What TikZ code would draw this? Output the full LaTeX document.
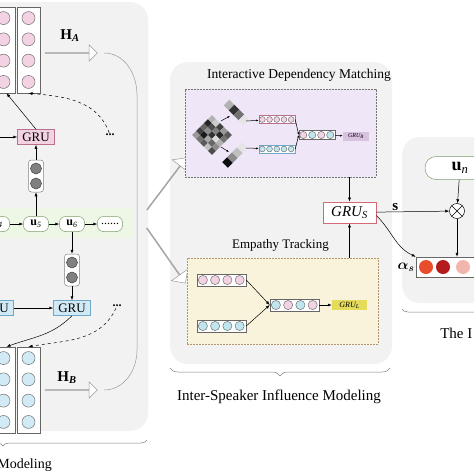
\documentclass[tikz,border=0pt]{standalone}
\usepackage{amsmath}
\usepackage{fontspec}
\setmainfont{Liberation Serif}
\usepackage{tikz}
\usetikzlibrary{shapes, arrows.meta, positioning, calc, decorations.pathreplacing}
\definecolor{panel}{HTML}{F2F2F2}
\definecolor{pinkf}{HTML}{F3D3E3}
\definecolor{pinkb}{HTML}{B8708F}
\definecolor{bluef}{HTML}{D2EAF5}
\definecolor{blueb}{HTML}{6FA8C8}
\definecolor{cyanf}{HTML}{BFE5EE}
\definecolor{greenb}{HTML}{7E9E6E}
\definecolor{greenf}{HTML}{EEF7E6}
\definecolor{idmf}{HTML}{EFE7F7}
\definecolor{etf}{HTML}{FAF3DC}
\definecolor{etb}{HTML}{B39669}
\definecolor{grur}{HTML}{D9C2E0}
\definecolor{grul}{HTML}{E5DC5C}
\definecolor{grus}{HTML}{D46A76}
\definecolor{att1}{HTML}{E84E2B}
\definecolor{att2}{HTML}{B51A1C}
\definecolor{att3}{HTML}{F2B5AE}
\tikzstyle{every node}=[font=\fontsize{12}{12}\selectfont, inner sep=1pt]
\tikzstyle{gru}=[draw, rectangle, minimum width=37pt, minimum height=15pt, font=\fontsize{13}{13}\selectfont]
\tikzstyle{utt}=[draw=greenb, fill=white, rounded corners=6pt, minimum width=25pt, minimum height=15pt]
\tikzstyle{gate}=[draw=black!50, fill=white, rounded corners=3pt, minimum width=15pt, minimum height=32pt]
\tikzstyle{col}=[draw=black!60, fill=white, rectangle, minimum width=23pt, minimum height=86pt]
\tikzstyle{vec}=[draw=black!60, fill=white, rectangle]
\tikzstyle{hollow}=[draw=black!40, fill=white, single arrow, single arrow head extend=4pt, inner sep=0pt, minimum width=16pt]
\tikzstyle{dbox}=[draw=black!55, dash pattern=on 2pt off 1pt]
\newcommand{\vcol}[2]{\foreach \k in {-1.5,-0.5,0.5,1.5} \draw[black!55, fill=#2] ($(#1)+(0,{\k*21.3})$) circle (6.5pt);}
\newcommand{\hrow}[4]{\foreach \c [count=\i] in {#4} \draw[black!55, fill=\c] ($(#1.west)+({(\i-0.5)*#2},0)$) circle (#3);}
\newcommand{\gatedots}[1]{\foreach \k in {-7.5,7.5} \draw[black!75, fill=black!50] ($(#1)+(0,\k)$) circle (5.5pt);}

\begin{document}
\begin{tikzpicture}[x=1pt, y=-1pt, >={Latex[length=4pt,width=3pt]}, line width=0.5pt]
  \useasboundingbox (0,0) rectangle (474,474);
  % panels
  \fill[panel, rounded corners=18pt] (-30,2) rectangle (148,431);
  \fill[panel, rounded corners=18pt] (170,62) rectangle (392,364);
  \fill[panel, rounded corners=18pt] (402,137) rectangle (520,303);
  \fill[greenf] (-10,208) rectangle (133,238);

  % speaker A
  \node[col] (p1) at (3.5,50) {};
  \node[col] (p2) at (28.5,50) {};
  \vcol{p1}{pinkf}
  \vcol{p2}{pinkf}
  \node[font=\fontsize{15}{15}\selectfont] (hat) at (70,36) {\textbf{H\textsubscript{\textit{A}}}};
  \node[hollow, minimum height=52pt] (ha) at (71,53) {};
  \node[gru, fill=pinkf, draw=pinkb] (pg) at (36,137) {GRU};
  \node (pd) at (110,135) {\textbf{...}};
  \coordinate (pin) at (-5,137);
  \node[gate] (gu) at (36,176) {};
  \gatedots{gu}

  % utterances
  \node[utt] (u4) at (-3,224) {\textbf{u}\textsubscript{\textit{4}}};
  \node[utt] (u5) at (36,224) {\textbf{u}\textsubscript{\textit{5}}};
  \node[utt] (u6) at (72,224) {\textbf{u}\textsubscript{\textit{6}}};
  \node[utt] (ud) at (110,224) {......};
  \draw[->] (u4) -- (u5);
  \draw[->] (u5) -- (u6);
  \draw[->] (u6) -- (ud);

  % speaker B
  \node[gate] (gl) at (72,270) {};
  \gatedots{gl}
  \node[gru, fill=bluef, draw=blueb] (bl) at (-5,308) {GRU};
  \node[gru, fill=bluef, draw=blueb] (bg) at (72,308) {GRU};
  \node (bd) at (117,306) {\textbf{...}};
  \node[col] (b1) at (3.5,390) {};
  \node[col] (b2) at (28.5,390) {};
  \vcol{b1}{bluef}
  \vcol{b2}{bluef}
  \node[font=\fontsize{15}{15}\selectfont] (hbt) at (67,378) {\textbf{H\textsubscript{\textit{B}}}};
  \node[hollow, minimum height=52pt] (hb) at (71,390) {};

  \draw[->] (pin) -- (pg);
  \draw[->] (u5) -- (gu);
  \draw[->] (gu) -- (pg);
  \draw[->] (pg.north) -- ($(p1.south)+(3,0)$);
  \draw[->, dashed] (pd) to[out=110, in=-5] (p2.south);
  \draw[->] (u6) -- (gl);
  \draw[->] (gl) -- (bg);
  \draw[->] (bl) -- (bg);
  \draw[->] (bg.south) to[out=-135, in=20] ($(b1.north)+(3,0)$);
  \draw[->, dashed] (bd) to[out=-115, in=10] (b2.north);

  \coordinate (c1) at (104,53);
  \coordinate (c2) at (104,390);
  \draw[black!40] (c1) to[out=0, in=90] (137,95) -- (137,350) to[out=-90, in=0] (c2);
  \draw[black!50, decorate, decoration={brace, mirror, amplitude=6pt}] (-141,440) -- (147,440);
  \node[anchor=east, font=\fontsize{14}{14}\selectfont] (ml) at (53,465) {Modeling};

  % hollow arrows
  \node[hollow, minimum height=65pt, minimum width=20pt, single arrow head extend=5pt, rotate=53] (a1) at (166.5,184) {};
  \node[hollow, minimum height=67pt, minimum width=20pt, single arrow head extend=5pt, rotate=-55] (a2) at (166,255.5) {};

  % interactive dependency matching
  \node[font=\fontsize{13.5}{13.5}\selectfont] (idmt) at (299,75) {Interactive Dependency Matching};
  \node[dbox, fill=idmf, minimum width=191pt, minimum height=88pt] (idm) at (280.5,133) {};
  \begin{scope}[shift={(212,135)}, rotate=45]
    \foreach \g [count=\n from 0] in {40,75,60,85,30,55,90,45,70,20,65,35,80,50,75,25,60,15,85,40,70,45,30,55,65} {
      \pgfmathtruncatemacro\i{mod(\n,5)}
      \pgfmathtruncatemacro\j{\n/5}
      \fill[black!\g] ({\i*5.6-14},{\j*5.6-14}) rectangle ++(5.6,5.6);
    }
  \end{scope}
  \begin{scope}[shift={(234,110)}, rotate=-45]
    \foreach \g [count=\i] in {30,80,55,10}
      \fill[black!\g] ({\i*7-17.5},-4) rectangle ++(7,8);
  \end{scope}
  \begin{scope}[shift={(232.5,157.5)}, rotate=45]
    \foreach \g [count=\i] in {95,45,25,10}
      \fill[black!\g] ({\i*7-17.5},-4) rectangle ++(7,8);
  \end{scope}
  \coordinate (g1) at (221,121);
  \coordinate (s1) at (230,116);
  \coordinate (g2) at (221,147);
  \coordinate (s2) at (229,152);
  \coordinate (s3) at (246,121);
  \coordinate (s4) at (246,148);
  \draw[->, >={Latex[length=2.5pt,width=2pt]}] (g1) -- (s1);
  \draw[->, >={Latex[length=2.5pt,width=2pt]}] (g2) -- (s2);
  \node[vec, draw=pinkb, minimum width=36pt, minimum height=8pt] (pk) at (277,119.5) {};
  \hrow{pk}{7.2}{2.9pt}{pinkf,pinkf,pinkf,pinkf,pinkf}
  \node[vec, draw=blueb, minimum width=36pt, minimum height=8pt] (cy) at (277,149) {};
  \hrow{cy}{7.2}{2.9pt}{cyanf,cyanf,cyanf,cyanf,cyanf}
  \node[vec, minimum width=36pt, minimum height=9pt] (cb) at (317,135) {};
  \hrow{cb}{9}{3.6pt}{pinkf,cyanf,pinkf,cyanf}
  \node[fill=grur, minimum width=26pt, minimum height=9pt, font=\itshape\fontsize{6}{6}\selectfont] (grr) at (356,136) {GRU\textsubscript{R}};
  \draw[->, >={Latex[length=2.5pt,width=2pt]}] (s3) -- (pk);
  \draw[->, >={Latex[length=2.5pt,width=2pt]}] (s4) -- (cy);
  \draw[->, >={Latex[length=2.5pt,width=2pt]}] (pk.east) -- (cb.west);
  \draw[->, >={Latex[length=2.5pt,width=2pt]}] (cy.east) -- (cb.west);
  \draw[->, >={Latex[length=2.5pt,width=2pt]}] (cb) -- (grr);

  % empathy tracking
  \node[draw=grus, fill=white, line width=0.8pt, minimum width=53pt, minimum height=21pt, font=\itshape\fontsize{15}{15}\selectfont] (gs) at (349.5,212.5) {GRU\textsubscript{S}};
  \node[font=\fontsize{13}{13}\selectfont] (ett) at (280.5,245) {Empathy Tracking};
  \node[dbox, draw=etb, fill=etf, minimum width=191pt, minimum height=86pt] (et) at (282.5,301) {};
  \node[vec, minimum width=49pt, minimum height=12pt] (pk2) at (221.5,280) {};
  \hrow{pk2}{12.25}{4.6pt}{pinkf,pinkf,pinkf,pinkf}
  \node[vec, minimum width=49pt, minimum height=12pt] (cy2) at (221.5,326) {};
  \hrow{cy2}{12.25}{4.6pt}{cyanf,cyanf,cyanf,cyanf}
  \node[vec, minimum width=49pt, minimum height=12pt] (cb2) at (294.5,305) {};
  \hrow{cb2}{12.25}{4.6pt}{cyanf,pinkf,cyanf,pinkf}
  \node[fill=grul, minimum width=35pt, minimum height=10pt, font=\itshape\fontsize{8}{8}\selectfont] (grl) at (349.5,305) {GRU\textsubscript{L}};
  \draw[->] (pk2.east) -- (cb2.west);
  \draw[->] (cy2.east) -- (cb2.west);
  \draw[->] (cb2) -- (grl);
  \draw[->] (idm.south -| gs) -- (gs);
  \draw[->] (et.north -| gs) -- (gs);
  \draw[black!50, decorate, decoration={brace, mirror, amplitude=8pt}] (170,368) -- (390,368);
  \node[font=\fontsize{15}{15}\selectfont] (isim) at (279,397) {Inter-Speaker Influence Modeling};

  % attention
  \node[utt, minimum width=70pt, minimum height=23pt, rounded corners=11pt, font=\fontsize{18}{18}\selectfont] (un) at (460,168) {\textbf{u}\textsubscript{\textit{n}}};
  \node[circle, draw, fill=white, minimum size=15pt, inner sep=0pt] (ox) at (457,211) {};
  \draw (ox.north west) -- (ox.south east) (ox.north east) -- (ox.south west);
  \node[draw=black!60, fill=white, minimum width=110pt, minimum height=20pt] (al) at (471,267) {};
  \foreach \x/\c in {426/att1, 443/att2, 463/att3}
    \fill[\c] (\x,267) circle (7pt);
  \node[anchor=east, font=\fontsize{14}{14}\selectfont] (alt) at (al.west) {$\boldsymbol{\alpha}_{\boldsymbol{s}}$};
  \draw[->] (gs) -- (ox) node[pos=.26, above, font=\bfseries\fontsize{15}{15}\selectfont] {s};
  \draw[->] (un) -- (ox);
  \draw[->] (ox) -- (ox |- al.north);
  \draw[->] ($(gs.east)+(0,3)$) to[out=-45, in=155] (al.north west);
  \draw[black!50, decorate, decoration={brace, mirror, amplitude=6pt}] (402,309) -- (640,309);
  \node[anchor=west, font=\fontsize{15}{15}\selectfont] (tl) at (439,333) {The I};
\end{tikzpicture}
\end{document}
